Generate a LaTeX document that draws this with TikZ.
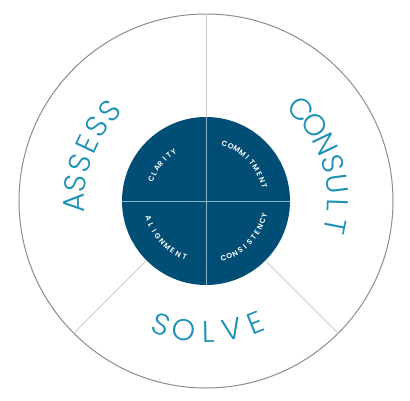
\documentclass[tikz,border=0pt]{standalone}
\usepackage{fontspec}
\newfontfamily\ringfont{Poppins Light}
\newfontfamily\corefont{Poppins SemiBold}
\definecolor{coreblue}{RGB}{0,77,118}
\definecolor{ringteal}{RGB}{26,144,182}
\definecolor{rimgray}{RGB}{140,140,140}
\definecolor{spokegray}{RGB}{205,205,205}
\definecolor{splitblue}{RGB}{140,175,200}
\tikzset{
    wheel/.style={circle, draw=rimgray, line width=1pt, minimum size=374pt, inner sep=0pt},
    hub/.style={circle, fill=coreblue, minimum size=168pt, inner sep=0pt},
    spoke/.style={draw=spokegray, line width=0.8pt},
    split/.style={draw=splitblue, line width=0.7pt},
    ringletter/.style={text=ringteal, font=\ringfont\fontsize{30}{30}\selectfont, inner sep=0pt},
    coreletter/.style={text=white, font=\corefont\fontsize{7.4}{7.4}\selectfont, inner sep=0pt}
}
\begin{document}
\begin{tikzpicture}[x=1pt, y=1pt]
    \useasboundingbox (-206,-199) rectangle (204,201);
    % Nodes
    \node[wheel] (W) at (0,0) {};
    \node[hub] (H) at (0,0) {};

    % spokes
    \draw[spoke] (H.north) -- (W.north);
    \draw[spoke] (H.-135) -- (W.-135);
    \draw[spoke] (H.-45) -- (W.-45);
    \draw[split] (H.north) -- (H.south);
    \draw[split] (H.west) -- (H.east);

    % outer words
    \foreach \ch [count=\i, evaluate=\i as \a using 181-(\i-1)*8.8] in {A,S,S,E,S,S}
        \node[ringletter, rotate=\a-90] (assess-\i) at (\a:132) {\ch};
    \foreach \ch [count=\i, evaluate=\i as \a using 44-(\i-1)*9.2] in {C,O,N,S,U,L,T}
        \node[ringletter, rotate=\a-90] (consult-\i) at (\a:132) {\ch};
    \foreach \ch [count=\i, evaluate=\i as \a using 250+(\i-1)*10.5] in {S,O,L,V,E}
        \node[ringletter, rotate=\a+90] (solve-\i) at (\a:131) {\ch};

    % inner words
    \foreach \ch [count=\i, evaluate=\i as \a using 158-(\i-1)*5.8] in {C,L,A,R,I,T,Y}
        \node[coreletter, rotate=\a-90] (clarity-\i) at (\a:59) {\ch};
    \foreach \ch [count=\i, evaluate=\i as \a using 72-(\i-1)*6.4] in {C,O,M,M,I,T,M,E,N,T}
        \node[coreletter, rotate=\a-90] (commitment-\i) at (\a:60) {\ch};
    \foreach \ch [count=\i, evaluate=\i as \a using 197+(\i-1)*6.5] in {A,L,I,G,N,M,E,N,T}
        \node[coreletter, rotate=\a+90] (alignment-\i) at (\a:60) {\ch};
    \foreach \ch [count=\i, evaluate=\i as \a using 287+(\i-1)*5.9] in {C,O,N,S,I,S,T,E,N,C,Y}
        \node[coreletter, rotate=\a+90] (consistency-\i) at (\a:60) {\ch};
\end{tikzpicture}
\end{document}
